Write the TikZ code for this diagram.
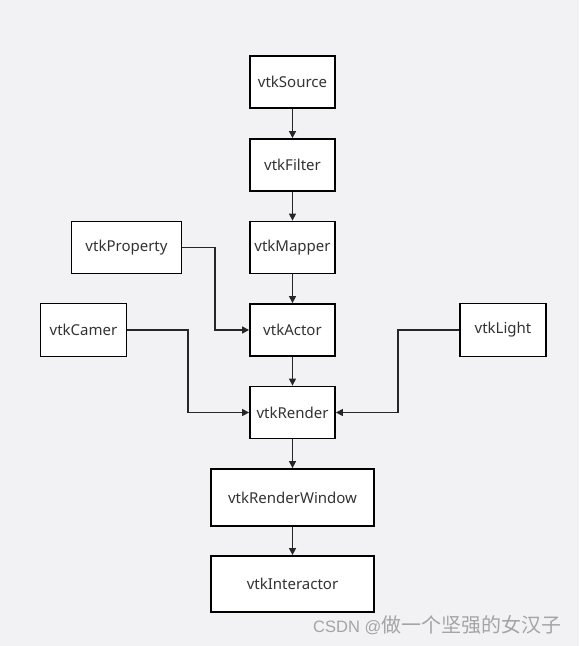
\documentclass[tikz,border=0pt]{standalone}
\usepackage{fontspec}
\setmainfont{Noto Sans}
\newfontfamily\cjk{Noto Sans CJK SC}
\newfontfamily\wmlat{Liberation Sans}
\usetikzlibrary{arrows.meta}
\definecolor{bgc}{HTML}{F2F2F4}
\definecolor{txt}{HTML}{333333}
\definecolor{wm}{HTML}{A4A4A4}
\begin{document}
\begin{tikzpicture}[x=1pt,y=-1pt,
  box/.style={draw=black,fill=white,line width=1.8pt,inner sep=0pt,
    font=\fontsize{15}{18}\selectfont,text=txt},
  conn/.style={draw=black!85,line width=1.3pt,-{Triangle[length=7pt,width=7pt]}}]
\fill[bgc] (0,0) rectangle (579,646);
\useasboundingbox (0,0) rectangle (579,646);
\node[box,minimum width=85pt,minimum height=52pt] (src) at (292.5,82) {vtkSource};
\node[box,minimum width=85pt,minimum height=52pt] (flt) at (292.5,165) {vtkFilter};
\node[box,minimum width=85pt,minimum height=52pt] (map) at (292.5,247.5) {vtkMapper};
\node[box,minimum width=85pt,minimum height=52pt] (act) at (292.5,330) {vtkActor};
\node[box,minimum width=85pt,minimum height=52pt] (ren) at (292.5,412.5) {vtkRender};
\node[box,minimum width=163pt,minimum height=57pt] (win) at (292.5,497.5) {vtkRenderWindow};
\node[box,minimum width=163pt,minimum height=56pt] (itr) at (292.5,584) {vtkInteractor};
\node[box,minimum width=110pt,minimum height=52pt] (prop) at (126.5,247.5) {vtkProperty};
\node[box,minimum width=86pt,minimum height=53pt] (cam) at (83.5,330) {vtkCamer};
\node[box,minimum width=86pt,minimum height=53pt] (lgt) at (503,330) {vtkLight};
\draw[conn] (src) -- (flt);
\draw[conn] (flt) -- (map);
\draw[conn] (map) -- (act);
\draw[conn] (act) -- (ren);
\draw[conn] (ren) -- (win);
\draw[conn] (win) -- (itr);
\draw[conn] (prop.east) -- (215,247.5) |- (act.west);
\draw[conn] (cam.east) -- (188,330) |- (ren.west);
\draw[conn] (lgt.west) -- (398,330) |- (ren.east);
\node[anchor=base west,text=wm,inner sep=0pt] (wmk) at (313,632)
  {{\wmlat\fontsize{16.5}{18}\selectfont CSDN @}{\cjk\fontsize{20}{22}\selectfont 做一个坚强的女汉子}};
\end{tikzpicture}
\end{document}
